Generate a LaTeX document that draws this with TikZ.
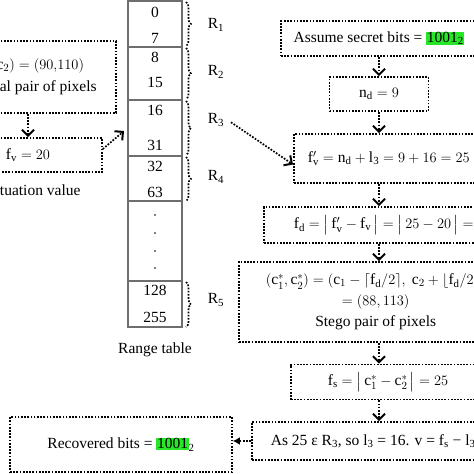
\documentclass[tikz,border=0pt]{standalone}
\usepackage{amsmath,amssymb}
\usepackage{fontspec}
\setmainfont{Liberation Serif}
\usepackage{xcolor}
\usetikzlibrary{arrows.meta, positioning}
\usetikzlibrary{decorations.pathreplacing}
\usetikzlibrary{calc}
\definecolor{hlgreen}{RGB}{40,230,40}
\definecolor{tabgray}{RGB}{110,110,110}
\newcommand{\hlbits}[1]{{\setlength{\fboxsep}{0.6pt}\colorbox{hlgreen}{#1}}}

\begin{document}
\begin{tikzpicture}[x=1pt, y=-1pt,
    every node/.style={font=\fontsize{15.5}{18}\selectfont},
    dotln/.style={line width=1.7pt, dash pattern=on 1.7pt off 1.5pt},
    dotbox/.style={draw, dotln, inner ysep=0pt},
    arr/.style={dotln, -{Straight Barb[length=6pt, width=12pt, line width=2pt]}},
    brc/.style={dotln, decorate, decoration={brace, amplitude=5pt}}]
    \path[use as bounding box] (0,0) rectangle (474,474);
    \clip (0,0) rectangle (474,474);

    % left column
    \node[dotbox, minimum width=176pt, minimum height=72pt, align=center] (orig) at (28,77)
        {$(\mathrm{c}_1, \mathrm{c}_2) = (90{,}110)$\\[4pt] Original pair of pixels};
    \node[dotbox, minimum width=148pt, minimum height=34pt] (fv) at (28,155) {$\mathrm{f_v} = 20$};
    \node[anchor=east] (flab) at (84,190) {Fluctuation value};
    \node[dotbox, minimum width=222pt, minimum height=55pt] (rec) at (121,444.5)
        {Recovered bits = \hlbits{1001}\textsubscript{2}};

    % range table
    \draw[tabgray, line width=1.2pt] (128,1) rectangle (182,327);
    \draw[tabgray, line width=2.5pt] (128,1) -- (182,1);
    \foreach \yy in {47,100,156,201,281}
        \draw[tabgray, line width=1.2pt] (128,\yy) -- (182,\yy);
    \foreach \v/\yy in {0/12, 7/38, 8/57, 15/82, 16/110, 31/145, 32/166, 63/192, 128/290, 255/317}
        \node (n\v) at (155,\yy) {\v};
    \foreach \yy in {215,233,251,268}
        \fill (155,\yy) circle (0.9pt);
    \node (rtab) at (155,350) {Range table};
    \foreach \a/\b/\i/\ly in {2/46/1/25, 48/99/2/72, 101/155/3/120, 157/201/4/177, 282/327/5/300} {
        \draw[brc] (186,\a) -- (186,\b);
        \node (r\i) at (216,\ly) {R\textsubscript{\i}};
    }
    \coordinate (tin) at (124,131);

    % right column
    \node[dotbox, minimum width=196pt, minimum height=35pt] (sec) at (379,38.5)
        {Assume secret bits = \hlbits{1001\textsubscript{2}}};
    \node[dotbox, minimum width=99pt, minimum height=34pt] (nd) at (379,94) {$\mathrm{n_d} = 9$};
    \node[dotbox, anchor=west, inner xsep=14pt, minimum height=49pt] (fvp) at (293,158.5)
        {$\mathrm{f'_v} = \mathrm{n_d} + \mathrm{l_3} = 9 + 16 = 25$};
    \node[dotbox, anchor=west, inner xsep=30pt, minimum height=36pt] (fd) at (263,225)
        {$\mathrm{f_d} = \big|\,\mathrm{f'_v} - \mathrm{f_v}\,\big| = \big|\,25 - 20\,\big| = 5$};
    \node[dotbox, anchor=west, inner xsep=27pt, minimum height=80pt, align=center] (stg) at (238,302)
        {$(\mathrm{c}^*_1, \mathrm{c}^*_2) = (\mathrm{c}_1 - \lceil \mathrm{f_d}/2\rceil,\ \mathrm{c}_2 + \lfloor \mathrm{f_d}/2\rfloor)$\\[3pt]
         $= (88, 113)$\\[3pt] Stego pair of pixels};
    \node[dotbox, anchor=west, inner xsep=37pt, minimum height=35pt] (fs) at (290,382)
        {$\mathrm{f_s} = \big|\,\mathrm{c}^*_1 - \mathrm{c}^*_2\,\big| = 25$};
    \node[dotbox, anchor=west, inner xsep=19pt, minimum height=38pt] (lst) at (251,441)
        {As 25 ε R\textsubscript{3}, so l\textsubscript{3} = 16. v = f\textsubscript{s} − l\textsubscript{3} = 9};

    % connectors
    \draw[arr] (orig.south) -- (fv.north);
    \draw[arr] ($(fv.east)+(0,-6)$) -- (tin);
    \draw[arr, shorten <=4pt] (r3.east) -- ($(fvp.west)+(0,6)$);
    \draw[arr] (sec.south) -- (nd.north);
    \draw[arr] (nd.south) -- (nd.south |- fvp.north);
    \draw[arr] (nd.south |- fvp.south) -- (nd.south |- fd.north);
    \draw[arr] (nd.south |- fd.south) -- (nd.south |- stg.north);
    \draw[arr] (nd.south |- stg.south) -- (nd.south |- fs.north);
    \draw[arr] (nd.south |- fs.south) -- (nd.south |- lst.north);
    \draw[dotln, -{Latex[length=7pt, width=8pt]}] (lst.west) -- (lst.west -| rec.east);
\end{tikzpicture}
\end{document}
